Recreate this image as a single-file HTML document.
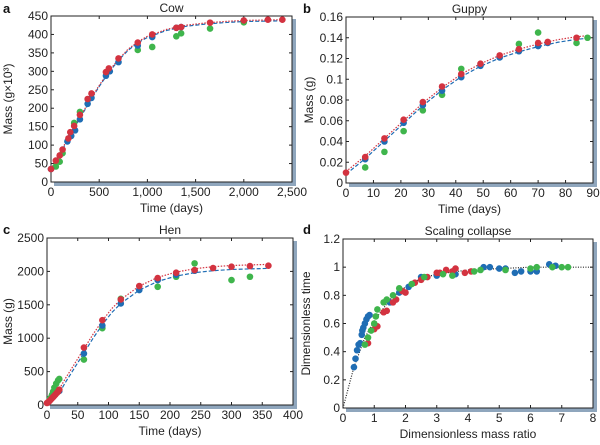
<!DOCTYPE html>
<html><head><meta charset="utf-8"><style>
html,body{margin:0;padding:0;background:#fff;}
svg{display:block;font-family:"Liberation Sans",Arial,sans-serif;}
</style></head><body>
<svg id="fig" width="600" height="445" viewBox="0 0 600 445" xmlns="http://www.w3.org/2000/svg"></svg>
<script>
// ---- Panel a: Cow ----
const cowRedX=[0,50,90,120,180,200,240,300,380,420,570,600,700,900,1050,1300,1350,1650,2000,2250,2400];
const cowRedY=[35,58,72,88,118,135,152,182,225,240,298,308,335,378,400,418,420,432,438,440,440];
const cowBlueX=[0,170,210,250,300,380,420,570,610,700,900,1050,1300,1350];
const cowBlueY=[35,110,125,140,170,212,228,288,300,325,370,393,418,420];
const cowGreenX=[50,90,120,240,300,900,1050,1300,1350,1650,2000];
const cowGreenY=[42,55,78,160,190,358,366,395,403,416,433];
const cowCurveX=[0,100,200,300,400,500,600,700,800,900,1000,1200,1400,1600,1800,2000,2200,2400];
const cowCurveY=[35,82,130,176,220,262,300,333,360,380,395,414,425,431,435,438,439,440];
const cowXTicks=[0,500,1000,1500,2000,2500];
const cowXLabels=["0","500","1,000","1,500","2,000","2,500"];
const cowYTicks=[0,50,100,150,200,250,300,350,400,450];
const cowYLabels=["0","50","100","150","200","250","300","350","400","450"];
// ---- Panel b: Guppy ----
const gupRedX=[0,7,14,21,28,35,42,49,56,63,70,73.5,84];
const gupRedY=[0.010,0.025,0.043,0.061,0.078,0.093,0.105,0.115,0.123,0.129,0.135,0.136,0.140];
const gupBlueX=[7,14,21,28,35,42,49,56,63,70,73.5];
const gupBlueY=[0.023,0.040,0.058,0.075,0.089,0.102,0.113,0.121,0.127,0.132,0.135];
const gupGreenX=[7,14,21,28,35,42,63,70,84,88];
const gupGreenY=[0.015,0.030,0.050,0.070,0.085,0.110,0.134,0.145,0.135,0.140];
const gupCurveX=[0,7,14,21,28,35,42,49,56,63,70,77,84,88];
const gupCurveY=[0.010,0.025,0.042,0.059,0.076,0.091,0.104,0.114,0.122,0.128,0.133,0.137,0.140,0.141];
const gupXTicks=[0,10,20,30,40,50,60,70,80,90];
const gupXLabels=["0","10","20","30","40","50","60","70","80","90"];
const gupYTicks=[0,0.02,0.04,0.06,0.08,0.1,0.12,0.14,0.16];
const gupYLabels=["0","0.02","0.04","0.06","0.08","0.1","0.12","0.14","0.16"];
// ---- Panel c: Hen ----
const henRedX=[0,2,4,6,8,10,12,14,16,18,20,60,90,120,150,180,210,240,270,300,330,360];
const henRedY=[30,45,60,80,100,120,140,160,180,200,230,860,1270,1580,1780,1900,1980,2020,2050,2070,2080,2085];
const henBlueX=[20,60,90,120,150,180,210,240];
const henBlueY=[210,770,1190,1520,1720,1870,1950,2010];
const henGreenX=[5,8,10,12,15,18,20,60,90,120,180,210,240,300,330];
const henGreenY=[100,150,200,260,320,370,390,680,1150,1590,1770,1920,2120,1870,1920];
const henCurveX=[0,10,20,30,45,60,75,90,105,120,150,180,210,240,270,300,330,360];
const henCurveY=[30,110,220,380,600,820,1040,1240,1420,1560,1760,1890,1970,2020,2050,2068,2078,2085];
const henXTicks=[0,50,100,150,200,250,300,350,400];
const henXLabels=["0","50","100","150","200","250","300","350","400"];
const henYTicks=[0,500,1000,1500,2000,2500];
const henYLabels=["0","500","1000","1500","2000","2500"];
// ---- Panel d: Scaling collapse ----
const scBlueX=[0.35,0.4,0.45,0.5,0.55,0.6,0.62,0.65,0.7,0.75,0.8,0.85,1.5,1.8,2.1,2.5,3,3.6,4.5,4.7,5,5.2,5.5,5.7,6,6.2,6.6,6.8];
const scBlueY=[0.29,0.35,0.41,0.45,0.46,0.52,0.55,0.57,0.6,0.63,0.65,0.66,0.75,0.82,0.86,0.93,0.94,0.95,1.0,1.0,0.99,0.99,0.96,0.97,0.97,0.97,1.02,1.01];
const scRedX=[0.8,1,1.1,1.3,1.4,1.6,1.7,1.9,2,2.3,2.5,2.7,3,3.1,3.3,3.5,3.6,3.9,4.1];
const scRedY=[0.46,0.56,0.58,0.68,0.69,0.75,0.77,0.83,0.82,0.89,0.91,0.93,0.96,0.96,0.98,0.97,0.99,0.96,0.97];
const scGreenX=[0.7,0.8,0.9,1,1.05,1.1,1.3,1.4,1.6,1.8,2.2,2.6,3.2,3.5,4.2,4.4,5.2,6,6.2,6.7,7,7.2];
const scGreenY=[0.45,0.5,0.55,0.6,0.65,0.7,0.75,0.77,0.8,0.85,0.88,0.93,0.95,0.94,0.97,0.98,0.98,0.99,1.0,1.0,1.0,1.0];
const scCurveX=[0,0.35,0.7,1,1.5,2,2.5,3,4,5,6,8];
const scCurveY=[0,0.29,0.5,0.62,0.77,0.86,0.92,0.95,0.98,0.99,1,1];
const scXTicks=[0,1,2,3,4,5,6,7,8];
const scXLabels=["0","1","2","3","4","5","6","7","8"];
const scYTicks=[0,0.2,0.4,0.6,0.8,1,1.2];
const scYLabels=["0","0.2","0.4","0.6","0.8","1","1.2"];

const NS="http://www.w3.org/2000/svg";
const svg=document.getElementById('fig');
const RED="#d33340",BLUE="#1f6db4",GREEN="#3fb54c";
function mk(tag,attrs,parent){const e=document.createElementNS(NS,tag);for(const k in attrs)e.setAttribute(k,attrs[k]);(parent||svg).appendChild(e);return e;}

function panel(o){
  const g=mk('g',{});
  
  
  const L=o.box[0],T=o.box[1],R=o.box[2],B=o.box[3];
  const sx=v=>L+(v-o.xd[0])/(o.xd[1]-o.xd[0])*(R-L);
  const sy=v=>B-(v-o.yd[0])/(o.yd[1]-o.yd[0])*(B-T);
  // shadow
  const sh=mk('path',{d:`M${R} ${T+3}h4v${B-T+1}h-${R-L+1}v-4h${R-L-3}z`,fill:'#8fa6bd'},g);
  
  
  const fr=mk('rect',{x:L,y:T,width:R-L,height:B-T,fill:'#fff',stroke:'#222','stroke-width':1},g);
  
  
  // ticks
  o.xt.forEach((v,i)=>{const x=sx(v);
    mk('line',{x1:x,y1:B,x2:x,y2:B-3,stroke:'#222'},g);mk('line',{x1:x,y1:T,x2:x,y2:T+3,stroke:'#222'},g);
    const t=mk('text',{x:x,y:B+14,'font-size':12,'text-anchor':'middle',fill:'#222'},g);t.textContent=o.xl[i];
    
    });
  o.yt.forEach((v,i)=>{const y=sy(v);
    mk('line',{x1:L,y1:y,x2:L+3,y2:y,stroke:'#222'},g);mk('line',{x1:R,y1:y,x2:R-3,y2:y,stroke:'#222'},g);
    const t=mk('text',{x:L-3,y:y+4,'font-size':12,'text-anchor':'end',fill:'#222'},g);t.textContent=o.yl[i];
    
    });
  // titles
  const ti=mk('text',{x:(L+R)/2,y:T-4,'font-size':12,'text-anchor':'middle',fill:'#222'},g);ti.textContent=o.title;
  
  
  const lt=mk('text',{x:o.letter[0],y:o.letter[1],'font-size':13,'font-weight':'bold',fill:'#111'},g);lt.textContent=o.letterText;
  
  
  const xa=mk('text',{x:(L+R)/2,y:B+30,'font-size':12,'text-anchor':'middle',fill:'#222'},g);xa.textContent=o.xlab;
  
  
  const yx=o.ylabX, yy=(T+B)/2;
  const ya=mk('text',{x:yx,y:yy,'font-size':12,'text-anchor':'middle',fill:'#222',transform:`rotate(-90 ${yx} ${yy})`},g);ya.textContent=o.ylab;
  
  
  // curves
  o.curves.forEach(c=>{
    const d=c.x.map((v,i)=>(i?'L':'M')+sx(v).toFixed(1)+' '+sy(c.y[i]+(c.off||0)).toFixed(1)).join(' ');
    const p=mk('path',{d:d,fill:'none',stroke:c.col,'stroke-width':1.2,'stroke-dasharray':c.dash},g);
    
    
  });
  // points
  o.series.forEach(s=>{s.x.forEach((v,i)=>{
    const c=mk('circle',{cx:sx(v),cy:sy(s.y[i]),r:3.3,fill:s.col},g);
    
    
  });});
}

panel({name:'cow',box:[51,16,292,182],xd:[0,2500],yd:[0,450],xt:cowXTicks,xl:cowXLabels,yt:cowYTicks,yl:cowYLabels,
  title:'Cow',letter:[3,13],letterText:'a',xlab:'Time (days)',ylab:'Mass (g×10³)',ylabX:12,
  curves:[{x:cowCurveX,y:cowCurveY,col:BLUE,dash:'4 2',off:-3,name:'cow-blue-fit'},{x:cowCurveX,y:cowCurveY,col:RED,dash:'1.5 1.5',name:'cow-red-fit'}],
  series:[{x:cowGreenX,y:cowGreenY,col:GREEN,name:'cow-green'},{x:cowBlueX,y:cowBlueY,col:BLUE,name:'cow-blue'},{x:cowRedX,y:cowRedY,col:RED,name:'cow-red'}]});
panel({name:'guppy',box:[346,17,593,183],xd:[0,90],yd:[0,0.16],xt:gupXTicks,xl:gupXLabels,yt:gupYTicks,yl:gupYLabels,
  title:'Guppy',letter:[303,13],letterText:'b',xlab:'Time (days)',ylab:'Mass (g)',ylabX:313,
  curves:[{x:gupCurveX,y:gupCurveY,col:BLUE,dash:'4 2',off:-0.0015,name:'guppy-blue-fit'},{x:gupCurveX,y:gupCurveY,col:RED,dash:'1.5 1.5',off:0.001,name:'guppy-red-fit'}],
  series:[{x:gupGreenX,y:gupGreenY,col:GREEN,name:'guppy-green'},{x:gupBlueX,y:gupBlueY,col:BLUE,name:'guppy-blue'},{x:gupRedX,y:gupRedY,col:RED,name:'guppy-red'}]});
panel({name:'hen',box:[47,238,293,405],xd:[0,400],yd:[0,2500],xt:henXTicks,xl:henXLabels,yt:henYTicks,yl:henYLabels,
  title:'Hen',letter:[3,234],letterText:'c',xlab:'Time (days)',ylab:'Mass (g)',ylabX:12,
  curves:[{x:henCurveX,y:henCurveY,col:BLUE,dash:'4 2',off:-40,name:'hen-blue-fit'},{x:henCurveX,y:henCurveY,col:RED,dash:'1.5 1.5',off:20,name:'hen-red-fit'}],
  series:[{x:henGreenX,y:henGreenY,col:GREEN,name:'hen-green'},{x:henBlueX,y:henBlueY,col:BLUE,name:'hen-blue'},{x:henRedX,y:henRedY,col:RED,name:'hen-red'}]});
panel({name:'scaling',box:[343,239,593,408],xd:[0,8],yd:[0,1.2],xt:scXTicks,xl:scXLabels,yt:scYTicks,yl:scYLabels,
  title:'Scaling collapse',letter:[303,234],letterText:'d',xlab:'Dimensionless mass ratio',ylab:'Dimensionless time',ylabX:310,
  curves:[{x:scCurveX,y:scCurveY,col:'#222',dash:'1 1.5',name:'scaling-fit'}],
  series:[{x:scBlueX,y:scBlueY,col:BLUE,name:'scaling-blue'},{x:scRedX,y:scRedY,col:RED,name:'scaling-red'},{x:scGreenX,y:scGreenY,col:GREEN,name:'scaling-green'}]});
</script>
</body></html>
